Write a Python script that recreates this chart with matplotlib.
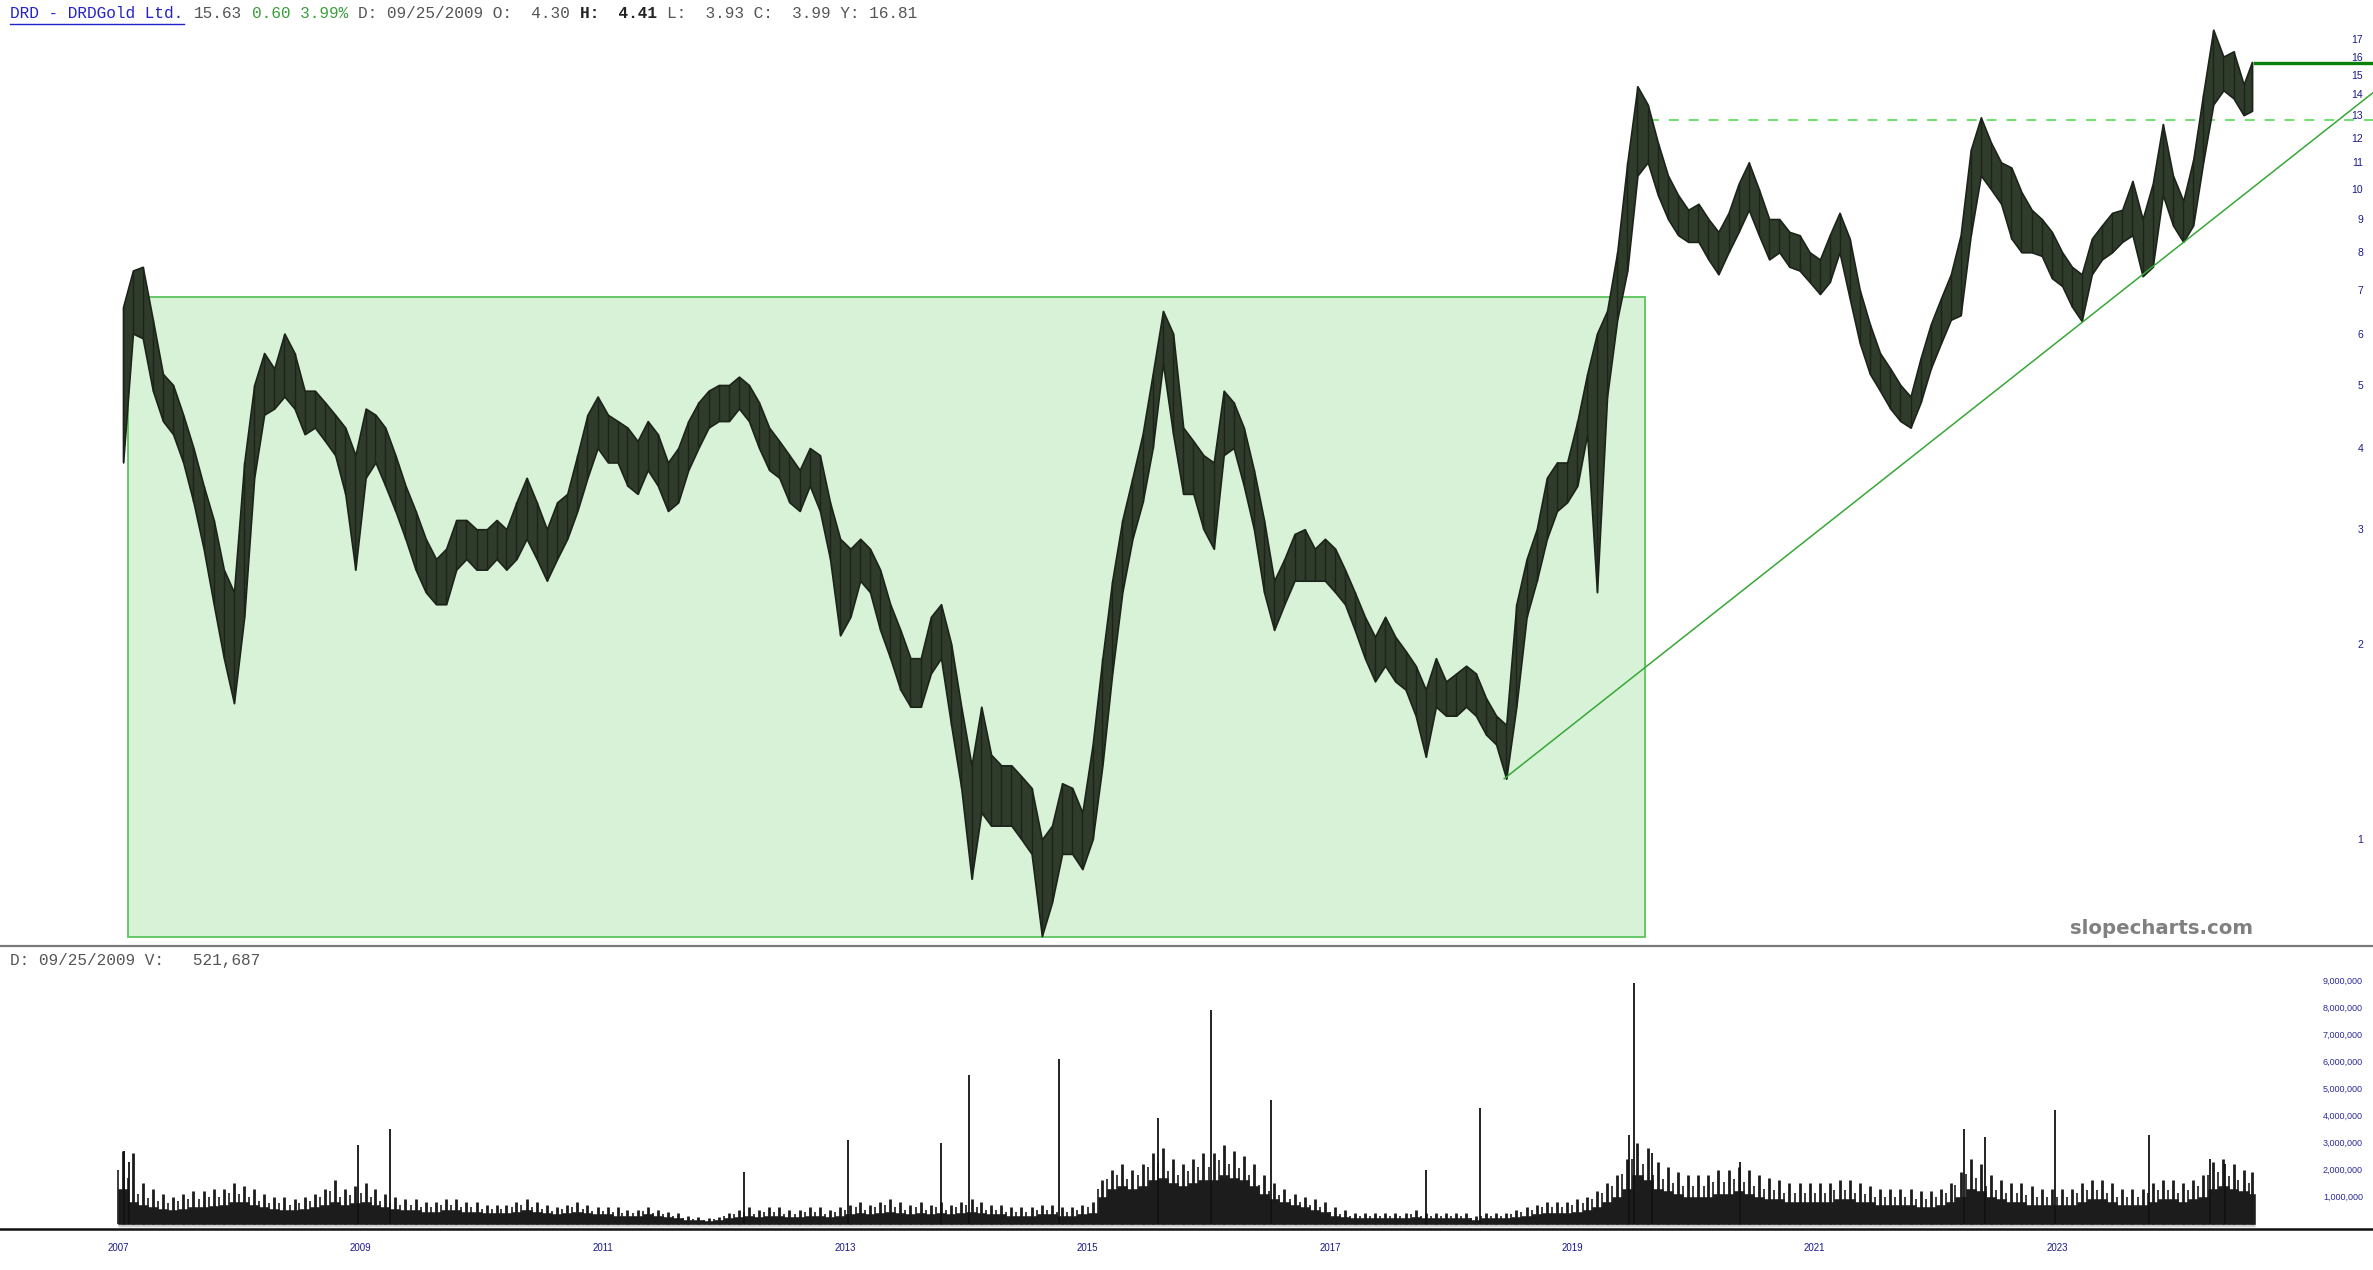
import numpy as np
import pandas as pd
import matplotlib
matplotlib.use('Agg')
import matplotlib.pyplot as plt
import matplotlib.dates as mdates
from matplotlib.patches import Rectangle
from matplotlib.lines import Line2D
from matplotlib.ticker import NullLocator

W, H, DPI = 2373, 1270, 100

# ---- data: monthly high / low, Jan 2007 .. Aug 2024 ----
price_low = (
    [3.8, 6.0, 5.9, 4.9, 4.4, 4.2, 3.8, 3.3, 2.8, 2.3, 1.9, 1.62]        # 2007
    + [2.2, 3.6, 4.5, 4.6, 4.8, 4.6, 4.2, 4.3, 4.1, 3.9, 3.4, 2.6]      # 2008
    + [3.6, 3.8, 3.5, 3.2, 2.9, 2.6, 2.4, 2.3, 2.3, 2.6, 2.7, 2.6]      # 2009
    + [2.6, 2.7, 2.6, 2.7, 2.9, 2.7, 2.5, 2.7, 2.9, 3.2, 3.6, 4.0]      # 2010
    + [3.8, 3.8, 3.5, 3.4, 3.7, 3.5, 3.2, 3.3, 3.7, 4.0, 4.3, 4.4]      # 2011
    + [4.4, 4.6, 4.4, 4.0, 3.7, 3.6, 3.3, 3.2, 3.5, 3.2, 2.7, 2.06]     # 2012
    + [2.2, 2.5, 2.4, 2.1, 1.9, 1.7, 1.6, 1.6, 1.8, 1.9, 1.5, 1.2]      # 2013
    + [0.87, 1.1, 1.05, 1.05, 1.05, 1.0, 0.95, 0.71, 0.8, 0.95, 0.95, 0.9]  # 2014
    + [1.0, 1.3, 1.8, 2.4, 2.9, 3.3, 4.0, 5.4, 4.2, 3.4, 3.4, 3.0]      # 2015
    + [2.8, 3.9, 4.0, 3.5, 3.0, 2.4, 2.1, 2.3, 2.5, 2.5, 2.5, 2.5]      # 2016
    + [2.4, 2.3, 2.1, 1.9, 1.75, 1.85, 1.75, 1.7, 1.55, 1.34, 1.6, 1.55]  # 2017
    + [1.55, 1.6, 1.55, 1.45, 1.4, 1.24, 1.6, 2.2, 2.5, 2.9, 3.2, 3.3]  # 2018
    + [3.5, 4.2, 2.4, 4.8, 6.3, 7.5, 10.5, 11.0, 9.8, 9.0, 8.5, 8.3]   # 2019
    + [8.3, 7.8, 7.4, 8.0, 8.6, 9.3, 8.5, 7.8, 8.0, 7.6, 7.5, 7.2]      # 2020
    + [6.9, 7.2, 8.0, 6.8, 5.8, 5.2, 4.9, 4.6, 4.4, 4.3, 4.7, 5.3]      # 2021
    + [5.8, 6.3, 6.4, 8.5, 10.5, 10.0, 9.5, 8.4, 8.0, 8.0, 7.9, 7.3]   # 2022
    + [7.1, 6.6, 6.27, 7.4, 7.8, 8.0, 8.3, 8.5, 7.35, 7.6, 9.8, 8.8]   # 2023
    + [8.3, 8.8, 11.0, 13.5, 14.2, 13.8, 13.0, 13.2]                    # 2024
)
price_high = (
    [6.6, 7.5, 7.6, 6.3, 5.2, 5.0, 4.5, 4.0, 3.5, 3.1, 2.6, 2.4]
    + [3.8, 5.0, 5.6, 5.3, 6.0, 5.6, 4.9, 4.9, 4.7, 4.5, 4.3, 3.9]
    + [4.6, 4.5, 4.3, 3.9, 3.5, 3.2, 2.9, 2.7, 2.8, 3.1, 3.1, 3.0]
    + [3.0, 3.1, 3.0, 3.3, 3.6, 3.3, 3.0, 3.3, 3.4, 3.9, 4.5, 4.8]
    + [4.5, 4.4, 4.3, 4.1, 4.4, 4.2, 3.8, 4.0, 4.4, 4.7, 4.9, 5.0]
    + [5.0, 5.15, 5.0, 4.7, 4.3, 4.1, 3.9, 3.7, 4.0, 3.9, 3.3, 2.9]
    + [2.8, 2.9, 2.8, 2.6, 2.3, 2.1, 1.9, 1.9, 2.2, 2.3, 2.0, 1.6]
    + [1.3, 1.6, 1.35, 1.3, 1.3, 1.25, 1.2, 1.0, 1.05, 1.22, 1.2, 1.1]
    + [1.4, 1.9, 2.5, 3.1, 3.6, 4.2, 5.2, 6.5, 6.0, 4.3, 4.1, 3.9]
    + [3.8, 4.9, 4.7, 4.3, 3.7, 3.1, 2.5, 2.7, 2.95, 3.0, 2.8, 2.9]
    + [2.8, 2.6, 2.4, 2.2, 2.05, 2.2, 2.05, 1.95, 1.85, 1.7, 1.9, 1.75]
    + [1.8, 1.85, 1.8, 1.65, 1.55, 1.5, 2.3, 2.7, 3.0, 3.6, 3.8, 3.8]
    + [4.4, 5.2, 6.0, 6.5, 8.0, 11.0, 14.4, 13.5, 11.8, 10.5, 9.8, 9.3]
    + [9.5, 9.0, 8.6, 9.2, 10.2, 11.0, 10.0, 9.0, 9.0, 8.6, 8.5, 8.0]
    + [7.8, 8.5, 9.2, 8.4, 7.0, 6.2, 5.6, 5.3, 5.0, 4.8, 5.5, 6.2]
    + [6.8, 7.4, 8.5, 11.5, 12.9, 11.8, 11.0, 10.8, 9.9, 9.3, 9.0, 8.6]
    + [8.0, 7.6, 7.4, 8.4, 8.8, 9.2, 9.3, 10.3, 9.0, 10.2, 12.6, 10.5]
    + [9.6, 11.1, 14.0, 17.6, 16.0, 16.3, 14.5, 15.7]
)
# monthly typical and peak daily volume, millions of shares
volume_m = (
    [1.3, 0.8, 0.7, 0.6, 0.55, 0.5, 0.55, 0.6, 0.6, 0.65, 0.7, 0.8]
    + [0.8, 0.7, 0.6, 0.55, 0.5, 0.5, 0.55, 0.6, 0.7, 0.8, 0.7, 0.75]
    + [0.8, 0.7, 0.6, 0.55, 0.5, 0.5, 0.45, 0.45, 0.5, 0.5, 0.45, 0.45]
    + [0.4, 0.4, 0.4, 0.45, 0.5, 0.45, 0.4, 0.35, 0.4, 0.45, 0.4, 0.35]
    + [0.35, 0.3, 0.3, 0.3, 0.35, 0.3, 0.25, 0.2, 0.15, 0.12, 0.1, 0.12]
    + [0.2, 0.25, 0.3, 0.25, 0.3, 0.3, 0.25, 0.25, 0.3, 0.3, 0.25, 0.3]
    + [0.35, 0.4, 0.35, 0.4, 0.45, 0.4, 0.35, 0.4, 0.35, 0.4, 0.35, 0.4]
    + [0.45, 0.4, 0.35, 0.35, 0.3, 0.3, 0.3, 0.35, 0.35, 0.3, 0.3, 0.35]
    + [0.4, 1.0, 1.3, 1.4, 1.3, 1.4, 1.6, 1.7, 1.5, 1.4, 1.5, 1.6]
    + [1.6, 1.8, 1.7, 1.6, 1.4, 1.1, 0.9, 0.8, 0.7, 0.6, 0.5, 0.45]
    + [0.3, 0.25, 0.2, 0.2, 0.2, 0.2, 0.2, 0.2, 0.25, 0.2, 0.2, 0.2]
    + [0.2, 0.2, 0.15, 0.2, 0.2, 0.2, 0.25, 0.3, 0.35, 0.4, 0.4, 0.4]
    + [0.45, 0.5, 0.6, 0.8, 1.0, 1.3, 1.8, 1.6, 1.3, 1.2, 1.1, 1.0]
    + [1.0, 1.0, 1.1, 1.1, 1.2, 1.1, 1.0, 0.9, 0.9, 0.8, 0.8, 0.8]
    + [0.8, 0.8, 0.9, 0.9, 0.8, 0.8, 0.7, 0.7, 0.7, 0.7, 0.6, 0.6]
    + [0.7, 0.8, 1.0, 1.3, 1.2, 1.0, 0.9, 0.8, 0.8, 0.7, 0.7, 0.7]
    + [0.7, 0.7, 0.8, 0.9, 0.9, 0.8, 0.7, 0.7, 0.7, 0.8, 0.9, 0.9]
    + [0.8, 0.9, 1.0, 1.3, 1.4, 1.3, 1.2, 1.1]
)
volume_peak_m = (
    [2.7, 2.6, 1.5, 1.3, 1.1, 1.0, 1.1, 1.2, 1.2, 1.3, 1.3, 1.5]
    + [1.4, 1.3, 1.1, 1.0, 1.0, 0.9, 1.0, 1.1, 1.3, 1.6, 1.3, 1.4]
    + [1.5, 1.3, 1.1, 1.0, 0.9, 0.9, 0.8, 0.8, 0.9, 0.9, 0.8, 0.8]
    + [0.7, 0.7, 0.7, 0.8, 0.9, 0.8, 0.7, 0.6, 0.7, 0.8, 0.7, 0.6]
    + [0.6, 0.6, 0.5, 0.5, 0.6, 0.5, 0.45, 0.4, 0.3, 0.25, 0.2, 0.25]
    + [0.4, 0.5, 0.6, 0.5, 0.6, 0.6, 0.5, 0.5, 0.6, 0.6, 0.5, 0.6]
    + [0.7, 0.8, 0.7, 0.8, 0.9, 0.8, 0.7, 0.8, 0.7, 0.8, 0.7, 0.8]
    + [0.9, 0.8, 0.7, 0.7, 0.6, 0.6, 0.6, 0.7, 0.7, 0.6, 0.6, 0.7]
    + [0.8, 1.6, 2.0, 2.2, 2.0, 2.2, 2.6, 2.8, 2.4, 2.2, 2.4, 2.6]
    + [2.6, 2.9, 2.7, 2.5, 2.2, 1.8, 1.5, 1.3, 1.1, 1.0, 0.9, 0.8]
    + [0.6, 0.5, 0.4, 0.4, 0.4, 0.4, 0.4, 0.4, 0.5, 0.4, 0.4, 0.4]
    + [0.4, 0.4, 0.3, 0.4, 0.4, 0.4, 0.5, 0.6, 0.7, 0.8, 0.8, 0.8]
    + [0.9, 1.0, 1.2, 1.5, 1.8, 2.4, 3.0, 2.8, 2.3, 2.1, 1.9, 1.8]
    + [1.8, 1.8, 2.0, 2.0, 2.1, 2.0, 1.8, 1.7, 1.6, 1.5, 1.5, 1.5]
    + [1.5, 1.5, 1.6, 1.6, 1.5, 1.4, 1.3, 1.3, 1.3, 1.3, 1.2, 1.2]
    + [1.3, 1.5, 1.9, 2.4, 2.2, 1.8, 1.6, 1.5, 1.5, 1.4, 1.3, 1.3]
    + [1.3, 1.3, 1.5, 1.6, 1.6, 1.5, 1.3, 1.3, 1.3, 1.5, 1.6, 1.6]
    + [1.5, 1.6, 1.8, 2.3, 2.4, 2.2, 2.0, 1.9]
)
spike_dates = ['2007-01-20', '2007-02-02', '2008-12-24', '2009-04-01', '2012-03-03',
               '2013-01-08', '2013-10-16', '2014-01-08', '2014-10-08', '2015-07-31',
               '2016-01-08', '2016-07-08', '2017-10-16', '2018-03-28', '2019-06-20',
               '2019-07-06', '2019-08-29', '2020-05-22', '2022-03-26', '2022-05-30',
               '2022-12-25', '2023-10-05', '2024-04-05', '2024-05-20']
spike_vol_m = [2.7, 2.3, 2.9, 3.5, 1.9, 3.1, 3.0, 5.5, 6.1, 3.9, 7.9, 4.6, 2.0, 4.3,
               3.3, 8.9, 2.6, 2.3, 3.5, 3.2, 4.2, 3.3, 2.4, 2.2]

first_date = '2007-01-01'
last_date = '2024-08-20'
last_close = 15.63

# annotations
box_start, box_end = '2007-02-01', '2019-08-08'
box_low, box_high = 0.708, 6.84
trend_start, trend_start_price = '2018-06-10', 1.24
trend_end, trend_end_price = '2025-08-12', 14.1
resist_start, resist_level = '2019-08-20', 12.8

price_ticks = list(range(1, 18))
vol_ticks = list(range(1, 10))
year_ticks = list(range(2007, 2024, 2))

header = [  # text, colour, weight, column
    ('DRD - DRDGold Ltd.', '#2222cc', 'normal', 0),
    ('15.63', '#555555', 'normal', 19),
    ('0.60 3.99%', '#3a9e3a', 'normal', 25),
    ('D: 09/25/2009 O:  4.30', '#555555', 'normal', 36),
    ('H:  4.41', '#222222', 'bold', 59),
    ('L:  3.93 C:  3.99 Y: 16.81', '#555555', 'normal', 68),
]
vol_header = 'D: 09/25/2009 V:   521,687'

# ---- derived ----
months = pd.date_range(first_date, periods=len(price_low), freq='MS')
edges = mdates.date2num(list(months) + [pd.Timestamp(last_date)])
widths = np.diff(edges)
mids = edges[:-1] + widths / 2
lo = np.array(price_low)
hi = np.array(price_high)

# ---- figure ----
fig = plt.figure(figsize=(W / DPI, H / DPI), dpi=DPI)
fig.patch.set_facecolor('white')


def px_box(top, bottom):
    return [0, 1 - bottom / H, 1, (bottom - top) / H]


ax = fig.add_axes(px_box(0, 945))
axv = fig.add_axes(px_box(947, 1228))

d0 = mdates.date2num(pd.Timestamp('2007-01-01'))
d1 = mdates.date2num(pd.Timestamp('2023-01-01'))
ppd = (2057 - 118) / (d1 - d0)
xlim = (d0 - 118 / ppd, d0 + (W - 118) / ppd)

# price panel
ax.set_yscale('log')
ax.set_ylim(0.688, 19.55)
ax.set_xlim(*xlim)
ax.add_patch(Rectangle((mdates.date2num(pd.Timestamp(box_start)), box_low),
                       mdates.date2num(pd.Timestamp(box_end)) - mdates.date2num(pd.Timestamp(box_start)),
                       box_high - box_low, facecolor='#d8f2d8', edgecolor='#5cc45c',
                       linewidth=1.3, zorder=1))
ax.fill_between(mids, lo, hi, color='#2f3b2b', linewidth=1.2, edgecolor='#1c241a', zorder=3)
ax.vlines(mids, lo, hi, color='#1c241a', lw=1.0, zorder=3)
ax.plot(pd.to_datetime([trend_start, trend_end]), [trend_start_price, trend_end_price],
        color='#35a835', lw=1.1, zorder=4)
ax.plot(pd.to_datetime([resist_start, trend_end]), [resist_level, resist_level],
        color='#48d848', lw=1.1, dashes=(6.5, 6.5), zorder=2)
ax.plot(pd.to_datetime([last_date, trend_end]), [last_close, last_close],
        color='#0a7f0a', lw=2.4, zorder=4)

ax.yaxis.tick_right()
ax.set_yticks(price_ticks)
ax.set_yticklabels([str(t) for t in price_ticks])
ax.yaxis.set_minor_locator(NullLocator())
ax.tick_params(axis='y', length=0, pad=-7.2, labelsize=7.5, labelcolor='#1a1a8c')
for lbl in ax.get_yticklabels():
    lbl.set_horizontalalignment('right')
    lbl.set_fontfamily('Liberation Sans')
ax.set_xticks([])
for s in ax.spines.values():
    s.set_visible(False)

# volume panel
vol = np.array(volume_m) * 1e6
axv.set_xlim(*xlim)
axv.set_ylim(-0.16e6, 10.25e6)
axv.hlines(-0.06e6, edges[0], edges[-1], color='#d0d0d0', lw=2.5, zorder=1)
axv.bar(edges[:-1], vol, width=widths, align='edge', color='#1c1c1c',
        edgecolor='#1c1c1c', linewidth=0.4, zorder=2)
axv.vlines(mids, 0, np.array(volume_peak_m) * 1e6, color='#1c1c1c', lw=2.0, zorder=2)
axv.vlines(edges[:-1], 0, (np.array(volume_m) + np.array(volume_peak_m)) / 2 * 1e6,
           color='#1c1c1c', lw=1.2, zorder=2)
axv.vlines(pd.to_datetime(spike_dates), 0, np.array(spike_vol_m) * 1e6,
           color='#111111', lw=1.3, zorder=3)
axv.yaxis.tick_right()
axv.set_yticks([v * 1e6 for v in vol_ticks])
axv.set_yticklabels([f'{v * 1000000:,}' for v in vol_ticks])
axv.tick_params(axis='y', length=0, pad=-7.2, labelsize=6.5, labelcolor='#2a2a9a')
for lbl in axv.get_yticklabels():
    lbl.set_horizontalalignment('right')
    lbl.set_fontfamily('Liberation Sans')
axv.set_xticks(mdates.date2num([pd.Timestamp(f'{y}-01-01') for y in year_ticks]))
axv.set_xticklabels([str(y) for y in year_ticks])
axv.tick_params(axis='x', length=0, pad=11, labelsize=7, labelcolor='#1a1a8c')
for lbl in axv.get_xticklabels():
    lbl.set_fontfamily('Liberation Sans')
for s in axv.spines.values():
    s.set_visible(False)

# separators
fig.add_artist(Line2D([0, 1], [1 - 946 / H] * 2, color='#7a7a7a', lw=1.6))
fig.add_artist(Line2D([0, 1], [1 - 1229 / H] * 2, color='#111111', lw=1.8))

# header text (monospace)
fs = 11.6
cw = 0.6 * fs * DPI / 72
for txt, col, wt, col_idx in header:
    fig.text((10 + col_idx * cw) / W, 1 - 14 / H, txt, color=col, fontweight=wt,
             fontsize=fs, family='Liberation Mono', va='center', ha='left')
fig.add_artist(Line2D([10 / W, (10 + 18 * cw) / W], [1 - 24 / H] * 2, color='#2222cc', lw=1.0))
fig.text(10 / W, 1 - 960 / H, vol_header, color='#555555', fontsize=fs,
         family='Liberation Mono', va='center', ha='left')

fig.text(2162 / W, 1 - 929 / H, 'slopecharts.com', color='#808080', fontsize=14.2,
         fontweight='bold', family='DejaVu Sans', ha='center', va='center')

fig.savefig('out.png', dpi=DPI, facecolor='white')
